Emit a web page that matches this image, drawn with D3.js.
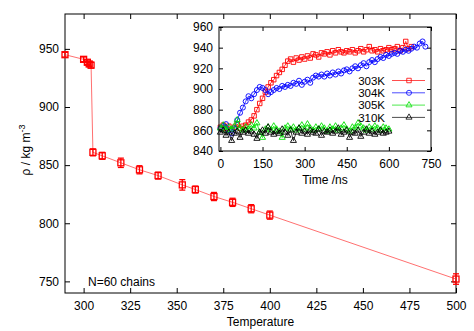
<!DOCTYPE html>
<html>
<head>
<meta charset="utf-8">
<script src="https://cdn.jsdelivr.net/npm/d3@7"></script>
<style>
  body { margin: 0; background: #fff; }
  svg { display: block; font-family: "Liberation Sans", Arial, sans-serif; }
  .tick line { stroke: #000; }
  .tick text { font-size: 12px; fill: #000; }
</style>
</head>
<body>
<svg width="474" height="331"></svg>
<script>
// main plot: density vs temperature
var temps    = [290, 300, 302, 303, 304, 305, 310, 320, 330, 340, 353, 360, 370, 380, 390, 400, 500];
var density  = [945, 941, 938.5, 937, 936, 861, 858, 852, 846, 841, 833, 829, 823, 818, 812.5, 807, 752];
var densErr  = [2, 2, 2, 2, 2.5, 3, 3, 4, 3.5, 3, 4.5, 3, 3.5, 3.5, 3.5, 3.5, 4.5];
var xTicks   = [300, 325, 350, 375, 400, 425, 450, 475, 500];
var yTicks   = [750, 800, 850, 900, 950];

// inset: density vs time (every 10 ns)
var rho303 = [863, 865, 862, 864, 861, 863, 866, 862, 864, 865, 868, 870, 874, 880, 886, 891, 897, 902, 906, 909,
              913, 916, 919, 923, 927, 929, 926, 930, 928, 931, 929, 932, 930, 934, 933, 931, 935, 934, 936, 933,
              937, 935, 938, 936, 935, 937, 936, 938, 935, 937, 939, 936, 938, 941, 937, 938, 936, 939, 937, 938,
              940, 938, 939, 941, 937, 940, 946, 939, 941];
var rho304 = [862, 864, 866, 860, 857, 862, 870, 877, 882, 888, 893, 891, 895, 899, 902, 901, 899, 895, 897, 899,
              901, 900, 903, 902, 904, 903, 906, 905, 908, 904, 907, 909, 906, 911, 913, 912, 914, 912, 915, 913,
              916, 914, 917, 915, 918, 919, 917, 920, 922, 920, 923, 925, 922, 926, 928, 926, 929, 931, 930, 933,
              932, 934, 935, 934, 937, 936, 938, 937, 939, 941, 940, 944, 946, 941];
var rho305 = [862, 865, 860, 863, 861, 864, 870, 862, 860, 863, 861, 865, 862, 867, 858, 853, 861, 863, 860, 864,
              861, 859, 853, 862, 864, 861, 863, 860, 862, 865, 861, 866, 862, 860, 863, 861, 864, 862, 859, 863,
              861, 864, 860, 862, 865, 861, 859, 863, 862, 867, 864, 862, 860, 863, 861, 864, 862, 860, 863, 862, 861];
var rho310 = [858, 860, 855, 858, 850, 857, 859, 853, 858, 860, 857, 859, 856, 852, 858, 860, 857, 863, 858, 856,
              859, 857, 861, 858, 855, 860, 850, 858, 862, 857, 859, 856, 860, 858, 857, 861, 855, 859, 858, 860,
              857, 859, 862, 856, 858, 860, 853, 858, 857, 860, 854, 858, 861, 857, 859, 856, 858, 860, 857, 858, 859];
var runLabels = ["303K", "304K", "305K", "310K"];
var runColors = ["#ff0000", "#0000ff", "#00e000", "#000000"];
var insetXTicks = [0, 150, 300, 450, 600, 750];
var insetYTicks = [840, 860, 880, 900, 920, 940, 960];

var svg = d3.select("svg");

// ---------- main axes ----------
var x = d3.scaleLinear().domain([290, 500]).range([65, 456]),
    y = d3.scaleLinear().domain([740, 980]).range([293, 14]);

svg.append("g").attr("transform", "translate(0,293)")
   .call(d3.axisBottom(x).tickValues(xTicks).tickSize(-5).tickPadding(8));
svg.append("g").attr("transform", "translate(0,14)")
   .call(d3.axisTop(x).tickValues(xTicks).tickSize(-5).tickFormat(""));
svg.append("g").attr("transform", "translate(65,0)")
   .call(d3.axisLeft(y).tickValues(yTicks).tickSize(-5).tickPadding(6));
svg.append("g").attr("transform", "translate(456,0)")
   .call(d3.axisRight(y).tickValues(yTicks).tickSize(-5).tickFormat(""));
svg.selectAll(".domain").remove();

svg.append("rect").attr("x", 65).attr("y", 14).attr("width", 391).attr("height", 279)
   .attr("fill", "none").attr("stroke", "#000").attr("stroke-width", 1);

var pts = temps.map(function(t, i) { return {t: t, d: density[i], e: densErr[i]}; });

svg.append("path").datum(pts)
   .attr("fill", "none").attr("stroke", "#ff6060").attr("stroke-width", 0.9)
   .attr("d", d3.line().x(function(p) { return x(p.t); }).y(function(p) { return y(p.d); }));

var mk = svg.append("g").attr("stroke", "#ff0000").attr("fill", "none").attr("stroke-width", 1.3);
pts.forEach(function(p) {
    var cx = x(p.t), cy = y(p.d), y0 = y(p.d - p.e), y1 = y(p.d + p.e);
    mk.append("line").attr("x1", cx).attr("x2", cx).attr("y1", y0).attr("y2", y1);
    mk.append("line").attr("x1", cx - 3).attr("x2", cx + 3).attr("y1", y0).attr("y2", y0);
    mk.append("line").attr("x1", cx - 3).attr("x2", cx + 3).attr("y1", y1).attr("y2", y1);
    mk.append("rect").attr("x", cx - 3).attr("y", cy - 3).attr("width", 6).attr("height", 6);
});

svg.append("text").attr("x", 88).attr("y", 286).attr("font-size", 12).text("N=60 chains");
svg.append("text").attr("x", 260.5).attr("y", 326).attr("font-size", 12)
   .attr("text-anchor", "middle").text("Temperature");
var yl = svg.append("text").attr("transform", "translate(30,150) rotate(-90)")
   .attr("font-size", 12).attr("text-anchor", "middle");
yl.append("tspan").text("\u03c1 / kg m");
yl.append("tspan").attr("dy", -5).attr("font-size", 9).text("-3");

// ---------- inset ----------
var ix = d3.scaleLinear().domain([-5, 750]).range([219, 431]),
    iy = d3.scaleLinear().domain([840, 960]).range([151, 27]);

svg.append("rect").attr("x", 219).attr("y", 27).attr("width", 212).attr("height", 124).attr("fill", "#fff");

svg.append("g").attr("transform", "translate(0,151)")
   .call(d3.axisBottom(ix).tickValues(insetXTicks).tickSize(-4).tickPadding(8));
svg.append("g").attr("transform", "translate(0,27)")
   .call(d3.axisTop(ix).tickValues(insetXTicks).tickSize(-4).tickFormat(""));
svg.append("g").attr("transform", "translate(219,0)")
   .call(d3.axisLeft(iy).tickValues(insetYTicks).tickSize(-4).tickPadding(6));
svg.append("g").attr("transform", "translate(431,0)")
   .call(d3.axisRight(iy).tickValues(insetYTicks).tickSize(-4).tickFormat(""));
svg.selectAll(".domain").remove();

var runs = [rho303, rho304, rho305, rho310];
var sym = [d3.symbolSquare, d3.symbolCircle, d3.symbolTriangle, d3.symbolTriangle];
var symSize = [20, 20, 16, 16];

runs.forEach(function(vals, k) {
    var g = svg.append("g");
    var line = d3.line().x(function(v, i) { return ix(i * 10); }).y(function(v) { return iy(v); });
    g.append("path").datum(vals).attr("fill", "none")
     .attr("stroke", runColors[k]).attr("stroke-width", 0.8).attr("d", line);
    g.selectAll("path.m").data(vals).enter().append("path").attr("class", "m")
     .attr("transform", function(v, i) { return "translate(" + ix(i * 10) + "," + iy(v) + ")"; })
     .attr("d", d3.symbol().type(sym[k]).size(symSize[k]))
     .attr("fill", "none").attr("stroke", runColors[k]).attr("stroke-width", 0.9);
});

// legend
runLabels.forEach(function(lab, k) {
    var ly = 80.5 + k * 12.3;
    svg.append("text").attr("x", 385).attr("y", ly + 4.2).attr("font-size", 11.5)
       .attr("text-anchor", "end").text(lab);
    svg.append("line").attr("x1", 392).attr("x2", 425).attr("y1", ly).attr("y2", ly)
       .attr("stroke", runColors[k]).attr("stroke-width", 0.7);
    svg.append("path").attr("transform", "translate(409," + ly + ")")
       .attr("d", d3.symbol().type(sym[k]).size(symSize[k]))
       .attr("fill", "none").attr("stroke", runColors[k]).attr("stroke-width", 0.8);
});

svg.append("rect").attr("x", 219).attr("y", 27).attr("width", 212).attr("height", 124)
   .attr("fill", "none").attr("stroke", "#000").attr("stroke-width", 1);

svg.append("text").attr("x", 325).attr("y", 184).attr("font-size", 12)
   .attr("text-anchor", "middle").text("Time /ns");
</script>
</body>
</html>
